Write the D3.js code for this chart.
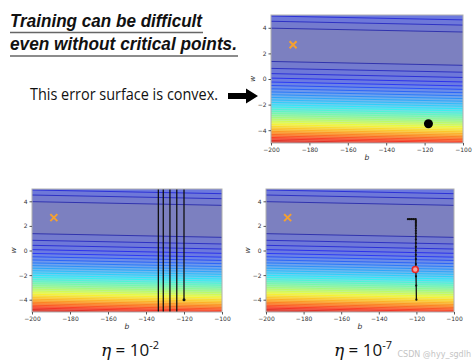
<!DOCTYPE html>
<html>
<head>
<meta charset="utf-8">
<script src="https://cdnjs.cloudflare.com/ajax/libs/d3/7.8.5/d3.min.js"></script>
<style>
  body { margin: 0; background: #fff; }
  svg { display: block; }
</style>
</head>
<body>
<div id="chart"></div>
<script>
// axis ticks
const bTicks = [-200, -180, -160, -140, -120, -100];
const wTicks = [-4, -2, 0, 2, 4];

// contour lines of the loss, w at b = -200
const levelsAbove = [3.97, 4.51, 4.92];
const levelsBelow = [1.37, 0.83, 0.42, 0.07, -0.24, -0.51, -0.77, -1.01, -1.23, -1.44,
  -1.64, -1.83, -2.02, -2.19, -2.37, -2.53, -2.69, -2.85, -3.0, -3.14, -3.29, -3.43,
  -3.56, -3.70, -3.83, -3.96, -4.09, -4.21, -4.33, -4.45, -4.57, -4.68, -4.80, -4.91];
const tilt = 0.3; // lines drop this much in w from b=-200 to b=-100

// optimum (orange cross)
const target = { b: -188.5, w: 2.67 };
// starting point in the first plot
const startDot = { b: -118, w: -3.5 };

// eta = 1e-2 : overshooting path
const pathBigB = [-120, -120, -123.8, -123.8, -127.4, -127.4, -130.9, -130.9, -133.5, -133.5];
const pathBigW = [-4, 40, 40, -40, -40, 40, 40, -40, -40, 40];

// eta = 1e-7 : slow path
const pathSmallB = [-120, -120.1, -120.2, -120.3, -120.3, -120.3, -120.3, -120.3, -120.3, -120.3,
  -120.3, -120.3, -120.3, -120.3, -120.3, -120.3, -120.3, -120.3, -120.3, -120.4, -121.5,
  -122.5, -123.5, -124.5];
const pathSmallW = [-4, -2.85, -2.1, -1.55, -1.1, -0.7, -0.35, 0, 0.3, 0.6, 0.9, 1.15, 1.4,
  1.6, 1.8, 2.0, 2.15, 2.3, 2.42, 2.55, 2.55, 2.55, 2.55, 2.55];
const redMark = { b: -120.6, w: -1.55 };

const W = 474, H = 362;
const svg = d3.select("#chart").append("svg").attr("width", W).attr("height", H);

const maxLevel = 35;
const fillColor = d3.scaleLinear()
  .domain([0, 0.05, 0.12, 0.2, 0.3, 0.37, 0.45, 0.55, 0.63, 0.7, 0.8, 0.9, 1])
  .range(["#7c80c0", "#6e78d8", "#6a7ae4", "#6c98ee", "#6ec0f2", "#70d8ee", "#88ecc8",
    "#b8f49c", "#e8f27a", "#f8dc62", "#f8ac56", "#f47e5e", "#e86464"])
  .clamp(true);

function jet(t) {
  const c = v => Math.max(0, Math.min(1, v));
  const r = c(1.5 - Math.abs(4 * t - 3));
  const g = c(1.5 - Math.abs(4 * t - 2));
  const b = c(1.5 - Math.abs(4 * t - 1));
  return d3.rgb(r * 255, g * 255, b * 255).formatHex();
}

function drawPanel(px, py, pw, ph, id) {
  const x = d3.scaleLinear().domain([-200, -100]).range([px, px + pw]);
  const y = d3.scaleLinear().domain([-5, 5]).range([py + ph, py]);
  const g = svg.append("g");

  g.append("clipPath").attr("id", id)
    .append("rect").attr("x", px).attr("y", py).attr("width", pw).attr("height", ph);
  const inner = g.append("g").attr("clip-path", `url(#${id})`);

  // central band
  inner.append("rect").attr("x", px).attr("y", py).attr("width", pw).attr("height", ph)
    .attr("fill", fillColor(0));

  const band = (w0, far) => [[x(-200), y(w0)], [x(-100), y(w0 - tilt)],
    [x(-100), y(far)], [x(-200), y(far)]];

  levelsAbove.forEach((lv, i) => {
    inner.append("path").attr("d", d3.line()(band(lv, 20)))
      .attr("fill", fillColor((i + 1) / maxLevel));
  });
  levelsBelow.forEach((lv, i) => {
    inner.append("path").attr("d", d3.line()(band(lv, -20)))
      .attr("fill", fillColor((i + 1) / maxLevel));
  });

  // contour lines
  [levelsAbove, levelsBelow].forEach(side => {
    side.forEach((lv, i) => {
      inner.append("line")
        .attr("x1", x(-200)).attr("y1", y(lv))
        .attr("x2", x(-100)).attr("y2", y(lv - tilt))
        .attr("stroke", jet((i + 1) / 36))
        .attr("stroke-width", 0.8)
        .attr("stroke-opacity", 0.75);
    });
  });

  // orange cross
  const cx = x(target.b), cy = y(target.w), s = 3.5;
  inner.append("path")
    .attr("d", `M${cx - s},${cy - s}L${cx + s},${cy + s}M${cx - s},${cy + s}L${cx + s},${cy - s}`)
    .attr("stroke", "#f4a030").attr("stroke-width", 2).attr("fill", "none");

  // frame
  g.append("rect").attr("x", px).attr("y", py).attr("width", pw).attr("height", ph)
    .attr("fill", "none").attr("stroke", "#b0b0b0").attr("stroke-width", 1);

  // axes
  const ax = g.append("g").attr("transform", `translate(0,${py + ph})`)
    .call(d3.axisBottom(x).tickValues(bTicks).tickSize(2.5).tickPadding(2));
  const ay = g.append("g").attr("transform", `translate(${px},0)`)
    .call(d3.axisLeft(y).tickValues(wTicks).tickSize(2.5).tickPadding(2));
  [ax, ay].forEach(a => {
    a.select(".domain").remove();
    a.selectAll("line").attr("stroke", "#555");
    a.selectAll("text").attr("font-family", "DejaVu Sans").attr("font-size", 6).attr("fill", "#333");
  });

  g.append("text").attr("x", px + pw / 2).attr("y", py + ph + 17)
    .attr("text-anchor", "middle").attr("font-family", "DejaVu Sans")
    .attr("font-style", "italic").attr("font-size", 7.5).attr("fill", "#333").text("b");
  g.append("text").attr("transform", `translate(${px - 16},${py + ph / 2}) rotate(-90)`)
    .attr("text-anchor", "middle").attr("font-family", "DejaVu Sans")
    .attr("font-style", "italic").attr("font-size", 7.5).attr("fill", "#333").text("w");

  return { x, y, inner };
}

// top right panel
const p1 = drawPanel(271, 15, 192, 128, "clip1");
p1.inner.append("circle").attr("cx", p1.x(startDot.b)).attr("cy", p1.y(startDot.w))
  .attr("r", 4.5).attr("fill", "#000");

// bottom left panel
const p2 = drawPanel(32, 189, 190, 123, "clip2");
p2.inner.append("path")
  .attr("d", d3.line().x((d, i) => p2.x(pathBigB[i])).y(d => p2.y(d))(pathBigW))
  .attr("fill", "none").attr("stroke", "#111").attr("stroke-width", 1.3);
p2.inner.append("circle").attr("cx", p2.x(pathBigB[0])).attr("cy", p2.y(pathBigW[0]))
  .attr("r", 1.5).attr("fill", "#111");

// bottom right panel
const p3 = drawPanel(266, 189, 188, 123, "clip3");
p3.inner.append("path")
  .attr("d", d3.line().x((d, i) => p3.x(pathSmallB[i])).y(d => p3.y(d))(pathSmallW))
  .attr("fill", "none").attr("stroke", "#111").attr("stroke-width", 1.3);
p3.inner.selectAll("circle.step").data(pathSmallW).join("circle")
  .attr("class", "step")
  .attr("cx", (d, i) => p3.x(pathSmallB[i])).attr("cy", d => p3.y(d))
  .attr("r", 1.1).attr("fill", "#111");
p3.inner.append("circle").attr("cx", p3.x(redMark.b)).attr("cy", p3.y(redMark.w))
  .attr("r", 3).attr("fill", "#f8a0a0").attr("stroke", "#e82828").attr("stroke-width", 1.6);

// title text
const title = [
  { t: "Training can be difficult", y: 27, len: 192, uy: 32.5 },
  { t: "even without critical points.", y: 50, len: 227, uy: 56 }
];
title.forEach(d => {
  svg.append("text").attr("x", 10).attr("y", d.y)
    .attr("font-family", "Liberation Sans").attr("font-weight", "bold").attr("font-style", "italic")
    .attr("font-size", 18.5).attr("fill", "#111")
    .attr("textLength", d.len).attr("lengthAdjust", "spacingAndGlyphs").text(d.t);
  svg.append("line").attr("x1", 10).attr("x2", 10 + d.len + 1)
    .attr("y1", d.uy).attr("y2", d.uy).attr("stroke", "#666").attr("stroke-width", 1.5);
});

svg.append("text").attr("x", 30).attr("y", 100)
  .attr("font-family", "Open Sans").attr("font-size", 16.5).attr("fill", "#111")
  .attr("textLength", 188).attr("lengthAdjust", "spacingAndGlyphs")
  .text("This error surface is convex.");

// arrow
svg.append("path")
  .attr("d", "M228,93L246,93L246,88.5L258,96L246,103.5L246,99L228,99Z")
  .attr("fill", "#000");

// eta labels
function eta(cx, exp) {
  const t = svg.append("text").attr("x", cx).attr("y", 356).attr("text-anchor", "middle")
    .attr("font-family", "Open Sans").attr("font-size", 17).attr("fill", "#111");
  t.append("tspan").attr("font-family", "DejaVu Serif").attr("font-style", "italic").text("η");
  t.append("tspan").text(" = 10");
  t.append("tspan").attr("font-size", 11).attr("dy", -7).text(exp);
}
eta(130, "-2");
eta(363, "-7");

// watermark
svg.append("text").attr("x", 471).attr("y", 357).attr("text-anchor", "end")
  .attr("font-family", "DejaVu Sans").attr("font-size", 8).attr("fill", "#c4c4c4")
  .text("CSDN @hyy_sgdlh");
</script>
</body>
</html>
